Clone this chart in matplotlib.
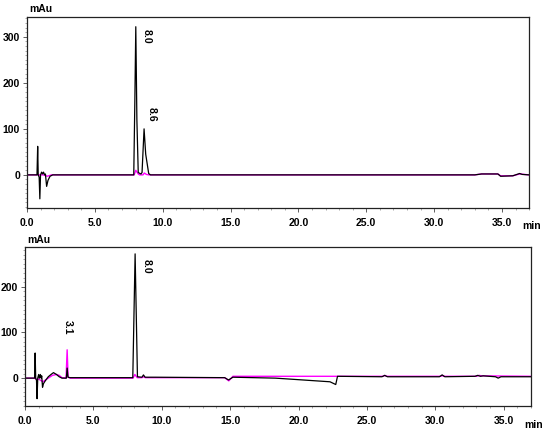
import numpy as np
import matplotlib.pyplot as plt
from matplotlib import font_manager
from matplotlib.ticker import MultipleLocator, FormatStrFormatter

# Arial-like bold for all texts
bold_file = None
for f in font_manager.fontManager.ttflist:
    if f.name == 'Liberation Sans' and f.weight in (700, 'bold') and f.style == 'normal':
        bold_file = f.fname
if bold_file:
    fp = font_manager.FontProperties(fname=bold_file, size=7.5)
else:
    fp = font_manager.FontProperties(family='DejaVu Sans', weight='bold', size=7)

# top chromatogram (sample 1)
top_t = [0, 0.74, 0.79, 0.83, 0.90, 0.95, 1.00, 1.08, 1.15, 1.22, 1.30, 1.36, 1.45, 1.55,
         1.70, 1.90, 7.87, 7.95, 8.02, 8.10, 8.20, 8.40, 8.48, 8.63, 8.75, 8.97, 9.1,
         33.0, 33.5, 34.7, 34.9, 35.8, 36.3, 36.5, 37.0]
top_black = [0, 0, 62, 0, -5, -52, 0, 6, 2, 6, 0, 2, -25, -12,
             -3, 0, 0, 160, 322, 120, 5, 2, 5, 100, 45, 3, 0,
             0, 2, 2, -3, -2, 3, 1, 0]
top_tm = [0, 0.7, 1.2, 1.5, 1.8, 7.9, 8.02, 8.2, 8.3, 8.55, 8.65, 8.8, 9.0,
          33.0, 33.5, 34.7, 34.9, 35.8, 36.3, 37.0]
top_magenta = [0, 0, 0, -3, 0, 0, 10, 2, 0, 0, 4, 1, 0,
               0, 2, 2, -2, -2, 2, 0]
top_labels = ['8.0', '8.6']
top_label_pos = [(8.8, 302), (9.17, 132)]

# bottom chromatogram (sample 2)
bot_t = [0, 0.70, 0.74, 0.78, 0.84, 0.88, 0.93, 1.00, 1.05, 1.12, 1.18, 1.22, 1.28, 1.35,
         1.50, 1.70, 1.90, 2.08, 2.30, 2.50, 2.70, 3.02, 3.08, 3.14, 3.30, 7.88, 8.05,
         8.22, 8.55, 8.66, 8.78, 9.5, 14.6, 14.88, 15.2, 18.3, 22.3, 22.65, 22.72, 22.85,
         26.1, 26.3, 26.5, 30.3, 30.5, 30.7, 32.9, 33.1, 33.3, 33.5, 34.4, 34.6, 34.8, 37.0]
bot_black = [0, 0, 55, 0, -5, -45, 0, 8, 0, 8, 0, 5, -20, -12,
             -5, 3, 8, 12, 8, 3, 0, 0, 22, 2, 1, 1, 272,
             3, 2, 7, 2, 2, 1, -4, 2, 0, -8, -13, -14, 4,
             3, 6, 3, 3, 7, 3, 4, 6, 4, 5, 3, 0, 3, 3]
bot_tm = [0, 0.70, 0.85, 1.0, 1.3, 1.5, 1.7, 2.0, 2.3, 2.5, 2.7, 3.0, 3.08, 3.15, 3.3,
          7.9, 8.03, 8.2, 8.55, 8.66, 8.8, 14.6, 14.9, 15.2, 26.2, 26.3, 26.45,
          30.4, 30.5, 30.6, 33.0, 33.2, 33.4, 37.0]
bot_magenta = [0, 0, -3, -2, -8, -4, 0, 6, 8, 6, 1, 0, 62, 2, 0,
               0, 8, 1, 1, 3, 1, 1, -6, 4, 4, 6, 4,
               4, 6, 4, 4, 6, 5, 4]
bot_labels = ['3.1', '8.0']
bot_label_pos = [(3.1, 111), (8.86, 244)]

fig = plt.figure(figsize=(5.5, 4.32), dpi=100)
ax1 = fig.add_axes([0.049, 0.5185, 0.913, 0.442])
ax2 = fig.add_axes([0.0455, 0.0602, 0.92, 0.368])

panels = [
    (ax1, top_tm, top_magenta, top_t, top_black, top_labels, top_label_pos, (-72, 343), -0.07),
    (ax2, bot_tm, bot_magenta, bot_t, bot_black, bot_labels, bot_label_pos, (-61, 287), -0.09),
]

for ax, tm, vm, tb, vb, labels, pos, ylim, min_y in panels:
    ax.plot(tm, vm, color='#ff00ff', lw=1.0)
    ax.plot(tb, vb, color='black', lw=0.9)
    for lab, (x, y) in zip(labels, pos):
        ax.text(x, y, lab, rotation=270, ha='center', va='center', fontproperties=fp)
    ax.set_xlim(0, 37.0)
    ax.set_ylim(*ylim)
    ax.xaxis.set_major_locator(MultipleLocator(5))
    ax.xaxis.set_minor_locator(MultipleLocator(1))
    ax.xaxis.set_major_formatter(FormatStrFormatter('%.1f'))
    ax.yaxis.set_major_locator(MultipleLocator(100))
    ax.yaxis.set_minor_locator(MultipleLocator(10))
    ax.tick_params(which='major', length=3, width=0.6, color='#444444')
    ax.tick_params(axis='x', which='major', pad=4)
    ax.tick_params(axis='y', which='major', pad=2)
    ax.tick_params(which='minor', length=1.5, width=0.5, color='#888888')
    for lbl in ax.get_xticklabels() + ax.get_yticklabels():
        lbl.set_fontproperties(fp)
    for s in ax.spines.values():
        s.set_linewidth(0.9)
        s.set_color('#222222')
    ax.text(0.005, 1.015, 'mAu', transform=ax.transAxes, ha='left', va='bottom',
            fontproperties=fp)
    ax.text(0.987, min_y, 'min', transform=ax.transAxes, ha='left', va='top',
            fontproperties=fp)

fig.savefig('out.png', dpi=100)
